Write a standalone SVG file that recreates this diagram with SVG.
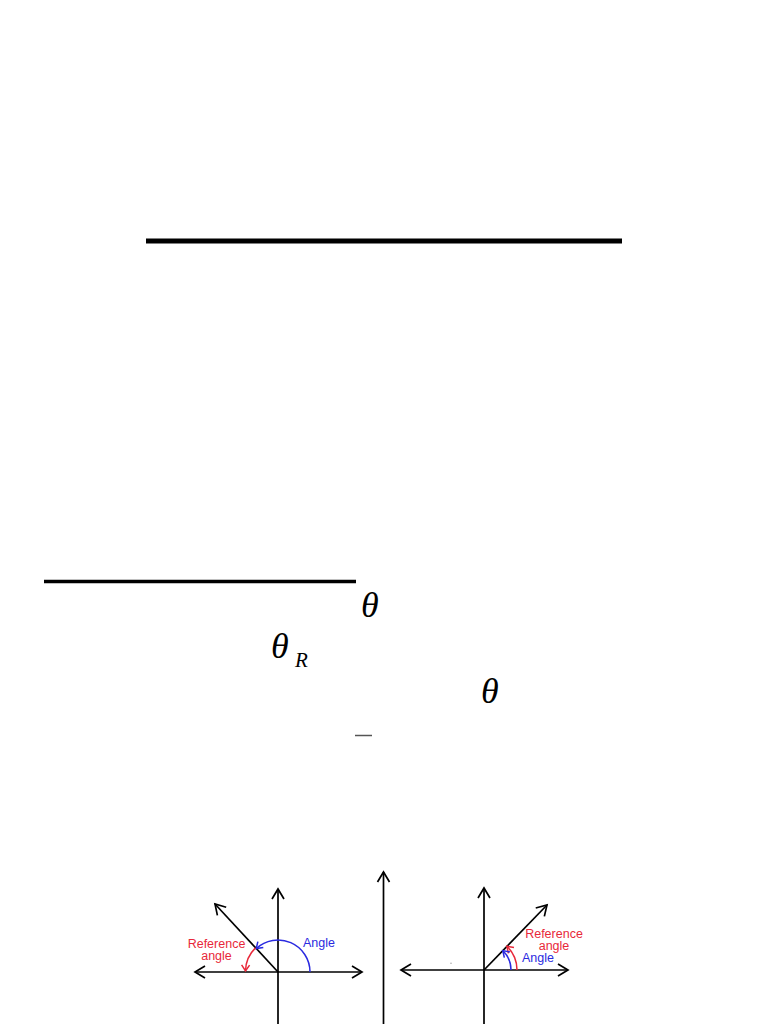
<svg xmlns="http://www.w3.org/2000/svg" width="768" height="1024" viewBox="0 0 768 1024">
<defs>
<style>
.math{font-family:"Liberation Serif","DejaVu Serif",serif;font-style:italic;fill:#000}
.lbl{font-family:"Liberation Sans",Arial,sans-serif;font-size:12.5px}
.red{fill:#e8283a}
.blue{fill:#2a2ae0}
.axis{stroke:#000;stroke-width:1.7;fill:none}
.arcR{stroke:#e8283a;stroke-width:1.5;fill:none}
.arcB{stroke:#2a2ae0;stroke-width:1.5;fill:none}
</style>
<marker id="ah" markerUnits="userSpaceOnUse" markerWidth="24" markerHeight="24" viewBox="-12 -12 24 24" refX="0" refY="0" orient="auto" overflow="visible">
<path d="M-10,-6 L0,0 L-10,6" fill="none" stroke="#000" stroke-width="1.7"/>
</marker>
<marker id="ahR" markerUnits="userSpaceOnUse" markerWidth="16" markerHeight="16" viewBox="-8 -8 16 16" refX="0" refY="0" orient="auto" overflow="visible">
<path d="M-6,-4 L0,0 L-6,4" fill="none" stroke="#e8283a" stroke-width="1.5"/>
</marker>
<marker id="ahB" markerUnits="userSpaceOnUse" markerWidth="16" markerHeight="16" viewBox="-8 -8 16 16" refX="0" refY="0" orient="auto" overflow="visible">
<path d="M-6,-4 L0,0 L-6,4" fill="none" stroke="#2a2ae0" stroke-width="1.5"/>
</marker>
</defs>
<rect width="768" height="1024" fill="#fff"/>
<g id="rules">
<line x1="146" y1="241" x2="622" y2="241" stroke="#000" stroke-width="5"/>
<line x1="44" y1="581.5" x2="356" y2="581.5" stroke="#000" stroke-width="3.5"/>
<line x1="355" y1="735.5" x2="372" y2="735.5" stroke="#555" stroke-width="1.5"/>
</g>
<g id="math">
<text class="math" x="361" y="617" font-size="36">θ</text>
<text class="math" x="271" y="658" font-size="36">θ</text>
<text class="math" x="295" y="666.5" font-size="21">R</text>
<text class="math" x="481" y="703" font-size="36">θ</text>
</g>
<g id="left-diagram">
<line class="axis" x1="278" y1="1030" x2="278" y2="889" marker-end="url(#ah)"/>
<line class="axis" x1="278" y1="972" x2="195" y2="972" marker-end="url(#ah)"/>
<line class="axis" x1="278" y1="972" x2="362" y2="972" marker-end="url(#ah)"/>
<line class="axis" x1="278" y1="972" x2="215" y2="904" marker-end="url(#ah)"/>
<path class="arcB" d="M310,972 A32,32 0 0 0 256.2,948.6" marker-end="url(#ahB)"/>
<path class="arcR" d="M255.5,947.9 A33,33 0 0 0 245.5,971" marker-end="url(#ahR)"/>
<text class="lbl blue" x="303" y="947">Angle</text>
<text class="lbl red" x="216.5" y="948" text-anchor="middle">Reference</text>
<text class="lbl red" x="216.5" y="960" text-anchor="middle">angle</text>
</g>
<g id="middle-axis">
<line class="axis" x1="383.5" y1="1030" x2="383.5" y2="872" marker-end="url(#ah)"/>
</g>
<g id="right-diagram">
<line class="axis" x1="484" y1="1030" x2="484" y2="888" marker-end="url(#ah)"/>
<line class="axis" x1="484" y1="970" x2="401" y2="970" marker-end="url(#ah)"/>
<line class="axis" x1="484" y1="970" x2="568" y2="970" marker-end="url(#ah)"/>
<line class="axis" x1="484" y1="970" x2="547" y2="905" marker-end="url(#ah)"/>
<path class="arcR" d="M517,970 A33,33 0 0 0 506.9,946.3" marker-end="url(#ahR)"/>
<path class="arcB" d="M511,970 A27,27 0 0 0 502.8,950.6" marker-end="url(#ahB)"/>
<text class="lbl red" x="554" y="938" text-anchor="middle">Reference</text>
<text class="lbl red" x="554" y="950" text-anchor="middle">angle</text>
<text class="lbl blue" x="522" y="962">Angle</text>
<circle cx="451" cy="963.3" r="0.7" fill="#999"/>
</g>
</svg>
